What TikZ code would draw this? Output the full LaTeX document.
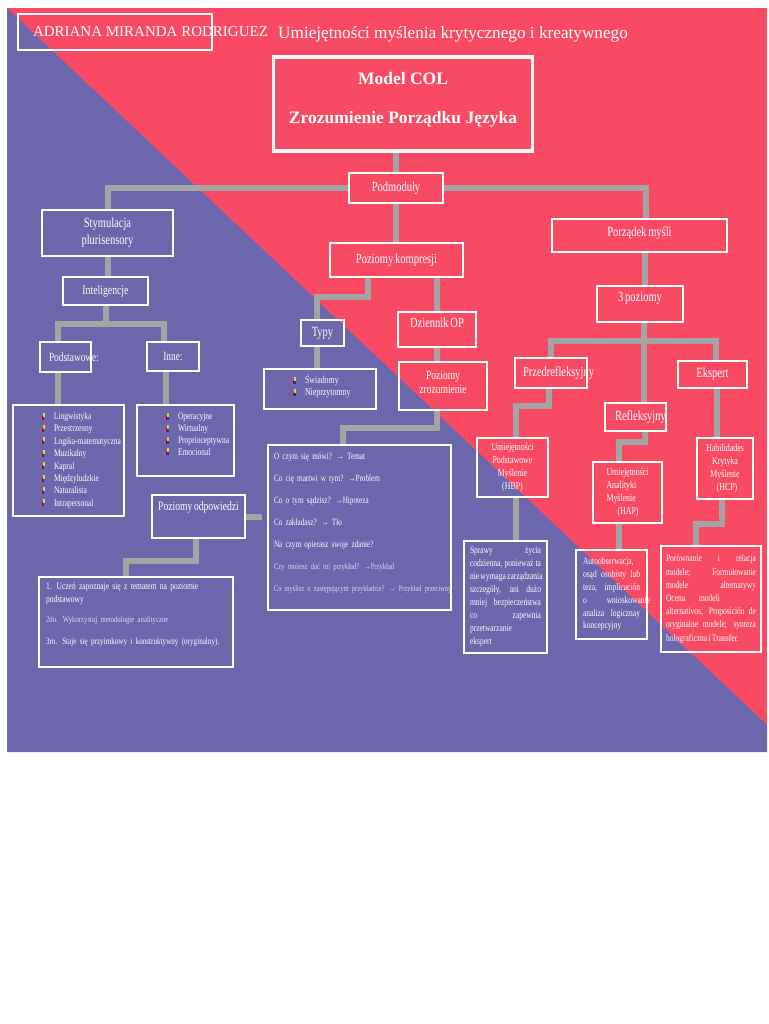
\documentclass[tikz,border=0pt]{standalone}
\usepackage{fontspec}
\setmainfont{Liberation Serif}
\newfontfamily\narrowfont{Liberation Serif}[FakeStretch=0.75,WordSpace=0.7]
\usepackage{tikz}
\usetikzlibrary{positioning,calc}

\definecolor{bgRed}{HTML}{F94A64}
\definecolor{bgPurple}{HTML}{6C66AC}
\definecolor{linkGray}{HTML}{A4A4A4}
\definecolor{softWhite}{HTML}{DCD9F0}
\definecolor{bulYellow}{HTML}{F5D21E}
\definecolor{bulBlue}{HTML}{2A2F8F}
\definecolor{bulRed}{HTML}{E8425A}

\newcommand\nfs[2]{\narrowfont\fontsize{#1}{#2}\selectfont}
\newcommand\ovr[2]{\makebox[#1][l]{#2}}
\newcommand\jl[2]{\makebox[#1][s]{#2}}
\newcommand\bul{\makebox[6pt][l]{\textcolor{bulRed}{\rule{2.5pt}{3pt}}\kern-0.5pt\textcolor{bulBlue}{\rule{2.5pt}{4pt}}\llap{\textcolor{bulYellow}{\rule[3pt]{1.5pt}{4pt}}}}}
\newcommand\itm[1]{\mbox{\hspace*{13.5pt}\bul\hspace{8pt}#1}}

\tikzset{
  box/.style={draw=white, line width=1.1pt, text=white, inner sep=0pt, align=center, font=\nfs{14}{16}},
  link/.style={draw=linkGray, line width=6pt},
}

\begin{document}
\begin{tikzpicture}[x=1pt,y=-1pt]
  \useasboundingbox (0,0) rectangle (768,1024);
  % background
  \fill[bgRed] (7,8) rectangle (767,752);
  \fill[bgPurple] (7,8) -- (767,725) -- (767,752) -- (7,752) -- cycle;

  % heading
  \node[box, minimum width=194pt, minimum height=36pt, font=\fontsize{15}{18}\selectfont] (author) at (115,32) {\hspace*{15pt}\ovr{179pt}{ADRIANA MIRANDA RODRIGUEZ}};
  \node[anchor=west, text=white, inner sep=0pt, font=\fontsize{17.2}{20}\selectfont] (title) at (278,34) {Umiejętności myślenia krytycznego i kreatywnego};
  \node[box, draw=white!93!gray, line width=3.5pt, minimum width=259pt, minimum height=94pt, font=\bfseries\fontsize{17.5}{39}\selectfont] (model) at (403,104) {Model COL\\Zrozumienie Porządku Języka\\[-26pt]\mbox{}};
  \node[box, minimum width=94pt, minimum height=30pt] (podm) at (396,188) {Podmoduły};

  % left branch
  \node[box, minimum width=131pt, minimum height=46pt, font=\nfs{14}{17}] (stym) at (107.5,233) {Stymulacja\\plurisensory};
  \node[box, minimum width=85pt, minimum height=28pt, font=\nfs{13}{15}] (intel) at (105.5,291) {Inteligencje};
  \node[box, minimum width=51pt, minimum height=30pt, font=\nfs{12.5}{15}] (podst) at (65.5,357) {\hspace*{9pt}\ovr{42pt}{Podstawowe:}};
  \node[box, minimum width=52pt, minimum height=29pt, font=\nfs{12.5}{15}] (inne) at (173,356.5) {Inne:};
  \node[box, text width=84pt, inner xsep=13.5pt, minimum height=111pt, align=left, font=\nfs{10}{12.4}] (list1) at (68.5,460.5) {\itm{Lingwistyka}\\\itm{Przestrzenny}\\\itm{Logika-matematyczna}\\\itm{Muzikalny}\\\itm{Kapral}\\\itm{Międzyludzkie}\\\itm{Naturalista}\\\itm{Intrapersonal}};
  \node[box, text width=70pt, inner xsep=13.5pt, minimum height=71pt, align=left, font=\nfs{10}{11.8}] (list2) at (185.5,440.5) {\itm{Operacyjne}\\\itm{Wirtualny}\\\itm{Proprioceptywna}\\\itm{Emocional}\\[1pt]\mbox{}};
  \node[box, minimum width=93pt, minimum height=43pt, font=\nfs{12.8}{15}] (odp) at (198.5,516.5) {Poziomy odpowiedzi\\[6pt]\mbox{}};
  \node[box, text width=180pt, inner xsep=7pt, minimum height=90pt, align=left, font=\nfs{10}{13}] (bott) at (136,622) {\mbox{1. Uczeń zapoznaje się z tematem na poziomie}\\podstawowy\\[7pt]{\color{softWhite}\nfs{9}{13}\mbox{2do. Wykorzystuj metodologie analityczne}}\\[9pt]{\nfs{9.5}{13}\mbox{3ro. Staje się przyimkowy i konstruktywny (oryginalny).}}\\[3pt]\mbox{}};

  % middle branch
  \node[box, minimum width=133pt, minimum height=34pt] (komp) at (396.5,260) {Poziomy kompresji};
  \node[box, minimum width=43pt, minimum height=26pt] (typy) at (322.5,333) {Typy};
  \node[box, minimum width=78pt, minimum height=35pt] (dzien) at (437,329.5) {Dziennik OP\\[-3pt]\mbox{}};
  \node[box, text width=85pt, inner xsep=13.5pt, minimum height=40pt, align=left, font=\nfs{10.5}{12}] (tlist) at (320,389) {\itm{Świadomy}\\\itm{Nieprzytomny}\\[-4pt]\mbox{}};
  \node[box, minimum width=88pt, minimum height=48pt, font=\nfs{12.7}{14}] (zroz) at (443,386) {Poziomy\\zrozumienie\\[-6pt]\mbox{}};
  \node[box, text width=171pt, inner xsep=6pt, minimum height=165pt, align=left, font=\nfs{9.6}{22}] (txt) at (359.5,527.5) {\mbox{O czym się mówi? → Temat}\\\mbox{Co cię martwi w tym? →Problem}\\\mbox{Co o tym sądzisz? →Hipoteza}\\\mbox{Co zakładasz? → Tło}\\\mbox{Na czym opierasz swoje zdanie?}\\{\color{softWhite}\nfs{8.8}{22}\mbox{Czy możesz dać mi przykład? →Przykład}}\\{\color{softWhite}\nfs{8.5}{22}\mbox{Co myślisz o następującym przykładzie? → Przykład przeciwny}}\\[-12pt]\mbox{}};

  % right branch
  \node[box, minimum width=175pt, minimum height=33pt] (porz) at (639.5,235.5) {Porządek myśli\\[-9pt]\mbox{}};
  \node[box, minimum width=86pt, minimum height=36pt] (trzy) at (640,304) {3 poziomy\\[-2pt]\mbox{}};
  \node[box, minimum width=72pt, minimum height=30pt] (pred) at (551,373) {\hspace*{8pt}\ovr{64pt}{Przedrefleksyjny}};
  \node[box, minimum width=69pt, minimum height=27pt] (eksp) at (712.5,374.5) {Ekspert};
  \node[box, minimum width=61pt, minimum height=28pt] (refl) at (635.5,417) {\hspace*{10pt}\ovr{51pt}{Refleksyjny}};
  \node[box, minimum width=71pt, minimum height=59pt, font=\nfs{10.5}{13}] (hbp) at (512.5,467.5) {Umiejętności\\Podstawowe\\Myślenie\hspace*{16pt}\\(HBP)};
  \node[box, minimum width=69pt, minimum height=61pt, align=left, font=\nfs{10.5}{12.8}] (hap) at (627.5,492.5) {Umiejętności\\Analityki\\Myślenie\\\hspace*{11pt}(HAP)};
  \node[box, minimum width=56pt, minimum height=61pt, font=\nfs{10.5}{13}] (hcp) at (725,468.5) {Habilidades\\Krytyka\hspace*{6pt}\\Myślenie\hspace*{10pt}\\\hspace*{4pt}(HCP)};
  \node[box, minimum width=83pt, minimum height=112pt, align=left, font=\nfs{10}{13}] (spr) at (505.5,597) {\jl{71pt}{Sprawy życia}\\\jl{71pt}{codzienna, ponieważ ta}\\\ovr{71pt}{nie wymaga zarządzania}\\\jl{71pt}{szczegóły, ani dużo}\\\jl{71pt}{mniej bezpieczeństwa}\\\jl{71pt}{co zapewnia}\\przetwarzanie\\ekspert};
  \node[box, minimum width=71pt, minimum height=89pt, align=left, font=\nfs{10}{12.8}] (auto) at (611.5,594.5) {Autoobserwacja,\\\jl{57pt}{osąd osobisty lub}\\\jl{57pt}{teza, implicación}\\\jl{57pt}{o\hspace{20pt}wnioskowanie}\\\jl{57pt}{analiza logicznay}\\koncepcyjny};
  \node[box, minimum width=100pt, minimum height=106pt, align=left, font=\nfs{10}{13.2}] (por) at (711,599) {\jl{90pt}{Porównanie i relacja}\\\jl{90pt}{modele; Formułowanie}\\\jl{90pt}{modele alternatywy}\\Ocena\hspace{14pt}modeli\\\jl{90pt}{alternativos; Proposición de}\\\jl{90pt}{oryginalne modele; synteza}\\holograficzna i Transfer.};

  % connectors
  \draw[link] (model.south -| podm.north) -- (podm.north);
  \draw[link] (podm.west) -| (stym.north);
  \draw[link] (podm.east) -| ([xshift=6pt]porz.north);
  \draw[link] (podm.south) -- (podm.south |- komp.north);
  \draw[link] (stym.south) -- (stym.south |- intel.north);
  \draw[link] (intel.south) -- ++(0,18);
  \draw[link] ([xshift=-8pt]podst.north) |- ($(intel.south)+(0,18)$) -| ([xshift=-9pt]inne.north);
  \draw[link] ([xshift=-7.5pt]podst.south) -- ([xshift=-7.5pt]podst.south |- list1.north);
  \draw[link] ([xshift=-7pt]inne.south) -- ([xshift=-7pt]inne.south |- list2.north);
  \draw[link] (odp.east) -- ([xshift=-5pt]txt.west |- odp.east);
  \draw[link] ([xshift=-3pt]odp.south) -- ++(0,22) -| ([xshift=-10pt]bott.north);
  \draw[link] ([xshift=-28.5pt]komp.south) -- ++(0,19) -| ([xshift=-6pt]typy.north);
  \draw[link] (dzien.north |- komp.south) -- (dzien.north);
  \draw[link] ([xshift=-6pt]typy.south) -- ([xshift=-6pt]typy.south |- tlist.north);
  \draw[link] (dzien.south) -- (dzien.south |- zroz.north);
  \draw[link] ([xshift=-6pt]zroz.south) -- ++(0,17) -| ([xshift=-16.5pt]txt.north);
  \draw[link] ([xshift=5pt]porz.south) -- ([xshift=5pt]porz.south |- trzy.north);
  \draw[link] ([xshift=4pt]trzy.south) -- ([xshift=4pt]trzy.south |- refl.north);
  \draw[link] (pred.north) |- ($(trzy.south)+(0,18)$) -| ([xshift=3pt]eksp.north);
  \draw[link] ([xshift=-2pt]pred.south) -- ++(0,17) -| ([xshift=3.5pt]hbp.north);
  \draw[link] ([xshift=3pt]hbp.south) -- ([xshift=3pt]hbp.south |- spr.north);
  \draw[link] ([xshift=9.5pt]refl.south) -- ++(0,10) -| ([xshift=-8.5pt]hap.north);
  \draw[link] ([xshift=-8.5pt]hap.south) -- ([xshift=-8.5pt]hap.south |- auto.north);
  \draw[link] ([xshift=4pt]eksp.south) -- ([xshift=4pt]eksp.south |- hcp.north);
  \draw[link] ([xshift=-3pt]hcp.south) -- ++(0,24) -| ([xshift=-15pt]por.north);
\end{tikzpicture}
\end{document}
